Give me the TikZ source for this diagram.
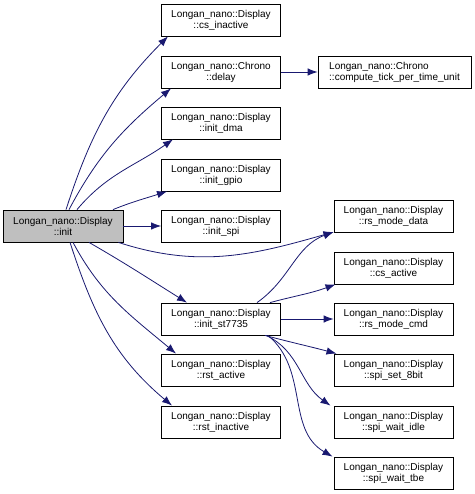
\documentclass[tikz,border=0pt]{standalone}
\usepackage{fontspec}
\setmainfont{Liberation Sans}
\usepackage{tikz}
\usepackage{xcolor}
\usetikzlibrary{arrows.meta,calc,positioning}
\definecolor{CallBlue}{HTML}{191970}
\definecolor{RootGray}{HTML}{BFBFBF}
\tikzset{
  cgnode/.style={draw=black, fill=white, line width=0.8pt, align=center, inner sep=0pt, minimum width=119pt, minimum height=32pt, font=\fontsize{10}{11}\selectfont},
  cgroot/.style={cgnode, fill=RootGray, minimum width=120pt},
  cgwide/.style={cgnode, align=left, minimum width=153pt},
  cgarrow/.style={-{Latex[length=10pt,width=7.5pt]}, line width=0.8pt, draw=CallBlue}
}
\begin{document}
\begin{tikzpicture}[x=1pt,y=1pt]
  \useasboundingbox (0,0) rectangle (474,-494);
  \node[cgroot] (init) at (63,-226) {Longan\_nano::Display\\::init};
  \node[cgnode] (csinactive) at (221,-20) {Longan\_nano::Display\\::cs\_inactive};
  \node[cgnode] (delay) at (221,-72) {Longan\_nano::Chrono\\::delay};
  \node[cgnode] (initdma) at (221,-123) {Longan\_nano::Display\\::init\_dma};
  \node[cgnode] (initgpio) at (221,-175) {Longan\_nano::Display\\::init\_gpio};
  \node[cgnode] (initspi) at (221,-226) {Longan\_nano::Display\\::init\_spi};
  \node[cgnode] (initst) at (221,-319) {Longan\_nano::Display\\::init\_st7735};
  \node[cgnode] (rstactive) at (221,-370) {Longan\_nano::Display\\::rst\_active};
  \node[cgnode] (rstinactive) at (221,-422) {Longan\_nano::Display\\::rst\_inactive};
  \node[cgwide] (compute) at (394.5,-72) {Longan\_nano::Chrono\\::compute\_tick\_per\_time\_unit};
  \node[cgnode] (rsdata) at (393.5,-216) {Longan\_nano::Display\\::rs\_mode\_data};
  \node[cgnode] (csactive) at (393.5,-268) {Longan\_nano::Display\\::cs\_active};
  \node[cgnode] (rscmd) at (393.5,-319) {Longan\_nano::Display\\::rs\_mode\_cmd};
  \node[cgnode] (spieight) at (393.5,-370) {Longan\_nano::Display\\::spi\_set\_8bit};
  \node[cgnode] (spiidle) at (393.5,-422) {Longan\_nano::Display\\::spi\_wait\_idle};
  \node[cgnode] (spitbe) at (393.5,-473) {Longan\_nano::Display\\::spi\_wait\_tbe};
  % calls from init
  \draw[cgarrow] ([xshift=3pt]init.north) to[out=72,in=225] ([xshift=-53pt]csinactive.south);
  \draw[cgarrow] ([xshift=6pt]init.north) to[out=62,in=220] ([xshift=-50pt]delay.south);
  \draw[cgarrow] ([xshift=14pt]init.north) to[out=50,in=215] ([xshift=-48pt]initdma.south);
  \draw[cgarrow] ([xshift=50pt]init.north) to[out=22,in=198] ([xshift=-54pt]initgpio.south);
  \draw[cgarrow] (init.east) -- (initspi.west);
  \draw[cgarrow] ([xshift=-5pt]init.south east) to[out=-18,in=196] ([yshift=-16pt]rsdata.west);
  \draw[cgarrow] ([xshift=26pt]init.south) to[out=-30,in=148] ([xshift=-34pt]initst.north);
  \draw[cgarrow] ([xshift=10pt]init.south) to[out=-62,in=140] ([xshift=-45pt]rstactive.north);
  \draw[cgarrow] ([xshift=7pt]init.south) to[out=-72,in=140] ([xshift=-49pt]rstinactive.north);
  % calls from delay
  \draw[cgarrow] (delay.east) -- (compute.west);
  % calls from init_st7735
  \draw[cgarrow] ([xshift=36pt]initst.north) to[out=35,in=200] ([yshift=-16pt]rsdata.west);
  \draw[cgarrow] ([xshift=49pt]initst.north) to[out=15,in=200] ([xshift=-58pt]csactive.south);
  \draw[cgarrow] (initst.east) -- (rscmd.west);
  \draw[cgarrow] ([xshift=44pt]initst.south) to[out=-15,in=165] ([xshift=-57pt]spieight.north);
  \draw[cgarrow] ([xshift=45pt]initst.south) to[out=-25,in=145] ([xshift=-63pt]spiidle.north);
  \draw[cgarrow] ([xshift=47pt]initst.south) to[out=-40,in=150] ([xshift=-61pt]spitbe.north);
\end{tikzpicture}
\end{document}
